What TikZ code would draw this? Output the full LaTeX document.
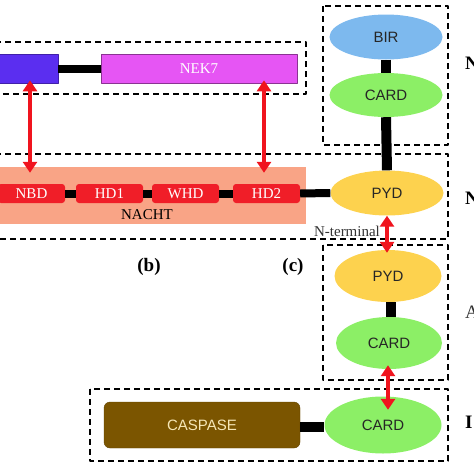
\documentclass[tikz,border=0pt]{standalone}
\usepackage{fontspec}
\setmainfont{Liberation Serif}
\setsansfont{Liberation Sans}
\usepackage{tikz}
\usetikzlibrary{arrows}
\usetikzlibrary{arrows.meta}
\usetikzlibrary{shapes.geometric}
\definecolor{nlrpblue}{HTML}{5B2EF0}
\definecolor{nekpink}{HTML}{E655F4}
\definecolor{nachtbg}{HTML}{F9A486}
\definecolor{domred}{HTML}{F01E28}
\definecolor{birblue}{HTML}{7DB9EE}
\definecolor{cardgreen}{HTML}{8CEF66}
\definecolor{pydyellow}{HTML}{FDD24E}
\definecolor{caspbrown}{HTML}{7B5500}
\definecolor{caspcream}{HTML}{F6E7B6}
\definecolor{arrowred}{HTML}{F0141E}

\begin{document}
\begin{tikzpicture}[line cap=round,line join=round,>=triangle 45,x=1pt,y=-1pt,
  grpbox/.style={line width=1.1pt,dash pattern=on 6pt off 4pt,line cap=butt},
  linkbar/.style={line width=8pt,black,line cap=butt},
  stembar/.style={line width=10pt,black,line cap=butt},
  redarrow/.style={line width=3.2pt,arrowred,line cap=butt,
    {Triangle[width=14pt,length=11pt]}-{Triangle[width=14pt,length=11pt]}},
  dombox/.style={fill=domred,rounded corners=3pt,minimum width=67pt,minimum height=19pt,
    inner sep=0pt,text=white,font=\fontsize{15}{18}\selectfont},
  bigbox/.style={minimum height=29pt,inner sep=0pt,font=\fontsize{15}{18}\selectfont},
  oval/.style={ellipse,inner sep=0pt,text=black!85,font=\sffamily\fontsize{15}{18}\selectfont},
  tag/.style={inner sep=0pt,font=\bfseries\fontsize{19}{22}\selectfont}]
\useasboundingbox (0,0) rectangle (474,474);
\clip (0,0) rectangle (474,474);
% dashed groups
\draw [grpbox] (-5,42) rectangle (306,94);
\draw [grpbox] (323,6) rectangle (448,145);
\draw [grpbox] (-5,154) rectangle (448,239);
\draw [grpbox] (323,245) rectangle (448,380);
\draw [grpbox] (90,389) rectangle (448,461);
% NACHT background
\draw (150.5,195.5) node[fill=nachtbg,minimum width=311pt,minimum height=57pt,inner sep=0pt] (nacht) {};
\draw (147,215) node[inner sep=0pt,font=\fontsize{15}{18}\selectfont] (nachtlbl) {NACHT};
% nodes
\draw (-1,68.5) node[bigbox,fill=nlrpblue,draw=nlrpblue!70!black,line width=0.6pt,minimum width=118pt] (lrr) {};
\draw (199,68.5) node[bigbox,fill=nekpink,draw=nekpink!60!black,line width=0.6pt,minimum width=196pt,text=white] (nek) {NEK7};
\draw (31.5,193.5) node[dombox] (nbd) {NBD};
\draw (109.5,193.5) node[dombox] (hda) {HD1};
\draw (185.5,193.5) node[dombox] (whd) {WHD};
\draw (266.5,193.5) node[dombox] (hdb) {HD2};
\draw (386,37) node[oval,fill=birblue,minimum width=113pt,minimum height=45pt] (bir) {BIR};
\draw (386,95) node[oval,fill=cardgreen,minimum width=113pt,minimum height=44pt] (carda) {CARD};
\draw (387,193) node[oval,fill=pydyellow,minimum width=113pt,minimum height=45pt] (pyda) {PYD};
\draw (388,276) node[oval,fill=pydyellow,minimum width=107pt,minimum height=52pt] (pydb) {PYD};
\draw (389,343) node[oval,fill=cardgreen,minimum width=106pt,minimum height=52pt] (cardb) {CARD};
\draw (383,425) node[oval,fill=cardgreen,minimum width=117pt,minimum height=57pt] (cardc) {CARD};
\draw (202,425) node[fill=caspbrown,draw=caspbrown!80!black,rounded corners=6pt,minimum width=196pt,minimum height=46pt,inner sep=0pt,text=caspcream,font=\sffamily\fontsize{15}{18}\selectfont] (casp) {CASPASE};
% links
\draw [linkbar] (lrr.east) -- (nek.west);
\draw [linkbar] (nbd.east) -- (hda.west);
\draw [linkbar] (hda.east) -- (whd.west);
\draw [linkbar] (whd.east) -- (hdb.west);
\draw [linkbar] (hdb.east) -- (pyda.west);
\draw [stembar] (bir.south) -- (carda.north);
\draw [stembar] (carda.south) -- (pyda.north);
\draw [stembar] ([xshift=3pt]pydb.south) -- ([xshift=2pt]cardb.north);
\draw [stembar] ([yshift=-2pt]casp.east) -- ([yshift=-2pt]cardc.west);
% interactions
\draw [redarrow,shorten <=-3pt,shorten >=11pt] ([xshift=-1.5pt]nbd.north |- lrr.south) -- ([xshift=-1.5pt]nbd.north);
\draw [redarrow,shorten <=-3pt,shorten >=11pt] ([xshift=-2.5pt]hdb.north |- nek.south) -- ([xshift=-2.5pt]hdb.north);
\draw [redarrow,shorten >=-3pt] (pyda.south) -- (pyda.south |- pydb.north);
\draw [redarrow,shorten <=-4pt,shorten >=-13.5pt] ([xshift=-1pt]cardb.south) -- ([xshift=-1pt]cardb.south |- cardc.north);
% labels
\draw (347,231) node[inner sep=0pt,text=black!80,font=\fontsize{15}{18}\selectfont] (nterm) {N-terminal};
\draw (149,267) node[tag] (lblb) {(b)};
\draw (293,267) node[tag] (lblc) {(c)};
\draw (465,63) node[tag,anchor=west] (sidea) {N};
\draw (465,198) node[tag,anchor=west] (sideb) {N};
\draw (465,312) node[inner sep=0pt,anchor=west,text=black!80,font=\fontsize{19}{22}\selectfont] (sidec) {A};
\draw (465,422) node[tag,anchor=west] (sided) {I};
\end{tikzpicture}
\end{document}
